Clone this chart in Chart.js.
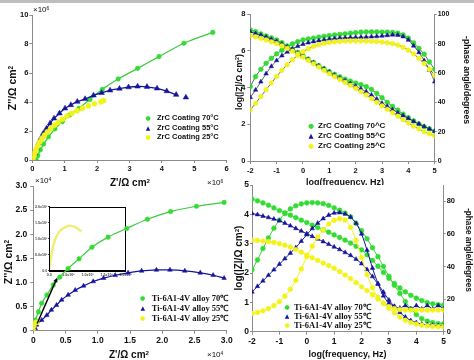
<!DOCTYPE html>
<html><head><meta charset="utf-8">
<script src="https://cdn.jsdelivr.net/npm/chart.js@4.4.1/dist/chart.umd.min.js"></script>
<style>
html,body{margin:0;padding:0;background:#fff;}
body{width:474px;height:360px;position:relative;overflow:hidden;font-family:"Liberation Sans",Arial,sans-serif;color:#111;}
canvas{position:absolute;left:0;top:0;}
.t{position:absolute;white-space:nowrap;font-weight:bold;line-height:1;}
.c{transform:translate(-50%,-50%);}
.rl{transform:translate(-50%,-50%) rotate(-90deg);}
.rr{transform:translate(-50%,-50%) rotate(90deg);}
.m{position:absolute;white-space:nowrap;font-size:8px;line-height:1;transform:translateY(-50%);}
sup{font-size:0.62em;vertical-align:0.5em;line-height:0;}
.lg{position:absolute;white-space:nowrap;font-weight:bold;line-height:1;transform:translateY(-50%);}
.mk{position:absolute;transform:translate(-50%,-50%);line-height:1;font-family:"DejaVu Sans",sans-serif;}
.serif{font-family:"Liberation Serif","Times New Roman",serif;}
</style></head><body>
<div style="position:absolute;left:0;top:0;width:474px;height:3px;background:#bdbdbd"></div>
<canvas id="inset" width="474" height="360"></canvas>
<canvas id="tl" width="474" height="360"></canvas>
<canvas id="tr" width="474" height="360"></canvas>
<canvas id="bl" width="474" height="360"></canvas>
<canvas id="br" width="474" height="360"></canvas>

<!-- top-left texts -->
<div class="m" style="left:33px;top:10px;">×10<sup>6</sup></div>
<div class="t c" style="left:130px;top:183px;font-size:10px;">Z'/Ω cm<sup>2</sup></div>
<div class="m" style="left:207px;top:183px;">×10<sup>6</sup></div>
<div class="t rl" style="left:12px;top:88px;font-size:10.5px;">Z''/Ω cm<sup>2</sup></div>
<div class="mk" style="left:148px;top:118px;font-size:6px;color:#32dc32">●</div>
<div class="mk" style="left:148px;top:127.5px;font-size:6px;color:#14149c">▲</div>
<div class="mk" style="left:148px;top:137px;font-size:6px;color:#f3f31c">●</div>
<div class="lg" style="left:157px;top:118px;font-size:7.5px;">ZrC Coating 70°C</div>
<div class="lg" style="left:157px;top:127.5px;font-size:7.5px;">ZrC Coating 55°C</div>
<div class="lg" style="left:157px;top:137px;font-size:7.5px;">ZrC Coating 25°C</div>

<!-- top-right texts -->
<div class="t rl" style="left:238.5px;top:82px;font-size:8.6px;">log(|Z|/Ω cm<sup>2</sup>)</div>
<div class="t rr" style="left:467px;top:80px;font-size:8.6px;">-phase angle/degrees</div>
<div style="position:absolute;left:290px;top:170px;width:110px;height:14.5px;overflow:hidden;">
  <div class="t c" style="left:55px;top:11.5px;font-size:9px;">log(frequency, Hz)</div>
</div>
<div class="mk" style="left:311px;top:126px;font-size:6.5px;color:#32dc32">●</div>
<div class="mk" style="left:311px;top:136px;font-size:6.5px;color:#14149c">▲</div>
<div class="mk" style="left:311px;top:146px;font-size:6.5px;color:#f3f31c">●</div>
<div class="lg" style="left:318px;top:126px;font-size:8px;">ZrC Coating 70^C</div>
<div class="lg" style="left:318px;top:136px;font-size:8px;">ZrC Coating 55^C</div>
<div class="lg" style="left:318px;top:146px;font-size:8px;">ZrC Coating 25^C</div>

<!-- bottom-left texts -->
<div class="m" style="left:35px;top:181px;">×10<sup>4</sup></div>
<div class="t rl" style="left:8px;top:262px;font-size:10.5px;">Z''/Ω cm<sup>2</sup></div>
<div class="t c" style="left:129px;top:355px;font-size:10px;">Z'/Ω cm<sup>2</sup></div>
<div class="m" style="left:207px;top:355px;">×10<sup>4</sup></div>
<div class="mk" style="left:142.7px;top:298.3px;font-size:6px;color:#32dc32">●</div>
<div class="mk" style="left:142.7px;top:308px;font-size:6px;color:#14149c">▲</div>
<div class="mk" style="left:142.7px;top:317.5px;font-size:6px;color:#f3f31c">●</div>
<div class="lg serif" style="left:151.7px;top:298.3px;font-size:8.5px;">Ti-6A1-4V alloy 70℃</div>
<div class="lg serif" style="left:151.7px;top:308px;font-size:8.5px;">Ti-6A1-4V alloy 55℃</div>
<div class="lg serif" style="left:151.7px;top:317.5px;font-size:8.5px;">Ti-6A1-4V alloy 25℃</div>

<!-- bottom-right texts -->
<div class="t rl" style="left:239px;top:258px;font-size:10px;">log(|Z|/Ω cm<sup>2</sup>)</div>
<div class="t rr" style="left:468px;top:250px;font-size:8.2px;">-phase angle/degrees</div>
<div class="t c" style="left:347.5px;top:354px;font-size:9px;">log(frequency, Hz)</div>
<div class="mk" style="left:287px;top:306.7px;font-size:6px;color:#32dc32">●</div>
<div class="mk" style="left:287px;top:316px;font-size:6px;color:#14149c">▲</div>
<div class="mk" style="left:287px;top:325px;font-size:6px;color:#f3f31c">●</div>
<div class="lg serif" style="left:294px;top:306.7px;font-size:8.5px;">Ti-6A1-4V alloy 70℃</div>
<div class="lg serif" style="left:294px;top:316px;font-size:8.5px;">Ti-6A1-4V alloy 55℃</div>
<div class="lg serif" style="left:294px;top:325px;font-size:8.5px;">Ti-6A1-4V alloy 25℃</div>

<script>
// ---------------- DATA ----------------
// Top-left: Nyquist, ZrC coating (units x10^6 ohm cm2)
const tlGreenZre = [0.12,0.17,0.25,0.35,0.5,0.7,0.93,1.15,1.44,1.78,2.16,2.65,3.25,3.91,4.68,5.57];
const tlGreenZim = [0.0,0.3,0.7,1.1,1.6,2.15,2.65,3.1,3.56,4.18,4.87,5.59,6.32,7.13,8.05,8.8];
const tlBlueZre = [0.08,0.13,0.19,0.26,0.34,0.44,0.55,0.67,0.84,1.01,1.19,1.39,1.63,1.89,2.14,2.4,2.69,2.97,3.25,3.54,3.85,4.15,4.44,4.74];
const tlBlueZim = [0.46,0.8,1.15,1.49,1.84,2.18,2.53,2.87,3.22,3.56,3.79,4.02,4.21,4.45,4.63,4.8,4.92,5.02,5.07,5.05,4.94,4.75,4.5,4.32];
const tlYellowZre = [0.02,0.05,0.08,0.12,0.17,0.23,0.3,0.38,0.47,0.57,0.68,0.8,0.93,1.07,1.22,1.38,1.55,1.73,1.92,2.12,2.2];
const tlYellowZim = [0.1,0.3,0.5,0.75,1.0,1.25,1.5,1.72,1.95,2.17,2.4,2.61,2.82,3.02,3.22,3.4,3.57,3.73,3.88,4.01,4.1];

// Bode plots share the frequency points (log Hz)
const logFreq = [-2,-1.8,-1.6,-1.4,-1.2,-1,-0.8,-0.6,-0.4,-0.2,0,0.2,0.4,0.6,0.8,1,1.2,1.4,1.6,1.8,2,2.2,2.4,2.6,2.8,3,3.2,3.4,3.6,3.8,4,4.2,4.4,4.6,4.8,5];

// Top-right: ZrC coating Bode
const trGreenLogZ = [7.15,7.05,6.93,6.82,6.71,6.6,6.45,6.28,6.1,5.92,5.74,5.56,5.38,5.2,5.03,4.87,4.72,4.59,4.46,4.35,4.25,4.16,4.05,3.9,3.68,3.45,3.2,2.98,2.77,2.56,2.36,2.18,2.02,1.88,1.75,1.62];
const trBlueLogZ = [7.05,6.95,6.86,6.76,6.64,6.52,6.38,6.22,6.05,5.88,5.72,5.54,5.36,5.19,5.02,4.85,4.68,4.52,4.37,4.22,4.08,3.93,3.78,3.6,3.38,3.15,2.98,2.8,2.63,2.47,2.32,2.16,2.02,1.88,1.75,1.63];
const trYellowLogZ = [6.85,6.77,6.69,6.6,6.5,6.4,6.28,6.14,5.99,5.83,5.66,5.48,5.3,5.12,4.94,4.76,4.6,4.44,4.28,4.12,3.96,3.78,3.6,3.4,3.2,3.0,2.82,2.63,2.44,2.25,2.07,1.9,1.75,1.6,1.48,1.37];
const trGreenPhase = [50.7,57.5,62.5,66.6,70,73,75.5,77.8,79.8,81.3,82.5,83.2,83.8,84.4,85,85.5,85.9,86.3,86.7,87.1,87.5,87.8,88,88,88,87.9,87.8,87.6,87.2,86,83.8,80.5,76.8,72.8,67.5,62.5];
const trBluePhase = [43.4,48.4,54,59.5,64.5,68.5,71.8,74.3,76.4,78.2,79.6,80.6,81.4,82,82.6,83.1,83.5,83.8,84,84.2,84.3,84.4,84.5,84.7,84.9,85.2,85.6,86,85.8,84.8,82.5,78.5,74,68.5,62,54];
const trYellowPhase = [34.8,39.3,43.9,48.6,53.2,57.6,61.8,65.6,69,72,74.5,76.5,78.1,79.3,80.2,80.8,81.2,81.5,81.7,81.8,81.8,81.8,81.7,81.6,81.4,81.1,80.6,80,79,77.5,75.5,73,70,66.5,62.5,58.5];

// Bottom-left: Nyquist, Ti-6Al-4V (units x10^4 ohm cm2)
const blGreenZre = [0.0,0.03,0.08,0.13,0.21,0.31,0.41,0.54,0.71,0.91,1.16,1.45,1.77,2.13,2.53,2.96];
const blGreenZim = [0.12,0.22,0.39,0.57,0.74,0.95,1.11,1.29,1.49,1.73,1.94,2.12,2.31,2.47,2.58,2.66];
const blBlueZre = [0.03,0.05,0.13,0.21,0.28,0.36,0.44,0.54,0.65,0.78,0.93,1.09,1.27,1.47,1.68,1.91,2.12,2.35,2.59,2.79,2.96];
const blBlueZim = [0.05,0.12,0.22,0.32,0.43,0.53,0.64,0.74,0.84,0.93,1.02,1.09,1.15,1.2,1.24,1.26,1.26,1.24,1.2,1.15,1.09];
const blYellowZre = [0.0,0.01,0.02,0.03,0.045,0.06];
const blYellowZim = [0.03,0.09,0.14,0.17,0.18,0.17];
// Inset (ohm cm2)
const insetZre = [0,45,91,155,227,318,409,500,591,682,773,864];
const insetZim = [54,435,760,1030,1217,1360,1435,1490,1490,1457,1390,1304];
const insetTickLabels = ['0.0','5.0x10²','1.0x10³','1.5x10³','2.0x10³'];
const arrowFrom = [0.06,0.15], arrowTo = [0.37,1.1];

// Bottom-right: Ti-6Al-4V Bode
const brGreenLogZ = [4.52,4.46,4.39,4.31,4.22,4.13,4.05,3.97,3.89,3.8,3.72,3.63,3.55,3.47,3.39,3.3,3.21,3.12,3.02,2.91,2.79,2.62,2.43,2.23,2.02,1.82,1.64,1.49,1.36,1.24,1.14,1.06,0.99,0.95,0.92,0.91];
const brBlueLogZ = [4.03,3.99,3.94,3.89,3.84,3.78,3.7,3.61,3.52,3.43,3.34,3.25,3.16,3.07,2.98,2.89,2.8,2.7,2.6,2.47,2.32,2.12,1.88,1.62,1.35,1.08,0.86,0.66,0.5,0.38,0.31,0.26,0.24,0.22,0.21,0.2];
const brYellowLogZ = [3.12,3.11,3.09,3.07,3.04,3.0,2.95,2.88,2.8,2.71,2.61,2.52,2.43,2.34,2.25,2.16,2.05,1.93,1.81,1.67,1.53,1.4,1.26,1.11,0.96,0.8,0.64,0.5,0.39,0.31,0.26,0.22,0.2,0.18,0.17,0.17];
const brGreenPhase = [38,44,51,57.5,63.5,68.5,72.5,75.3,77.2,78.4,79,79.2,79,78.5,77.5,76,74.5,72.8,70.5,66.5,62,57,51.5,46,40,34,28.5,23.5,18.5,14,10.5,8,6.5,5.5,5,5];
const brBluePhase = [24.4,27.8,31.2,34.6,38,41.4,44.8,48.2,51.6,55.5,59.5,63.3,66.6,69.4,71.5,72.8,73,72.2,70.3,66.5,60,50,39,29.5,22,17.5,15.5,14.5,16,14,16,14,16,14,16,14];
const brYellowPhase = [11.2,11.8,12.8,14.2,16,18.5,21.8,26,31.5,38.5,46,52.5,58,62.5,66,68.3,69.3,68.5,64,56,45.5,35,27,21,17.5,15.3,14.2,13.6,13.3,13.2,13.2,13.2,13.2,13.2,13.2,13.2];

// ---------------- STYLE / HELPERS ----------------
const FONT = '"Liberation Sans", Arial, sans-serif';
const AX = '#8c8c8c';
const GREEN = '#32dc32', GREEN_LINE = '#3fcb3f', BLUE = '#14149c', YELLOW = '#f3f31c', FIT = '#1e1e1e';

function pts(xs, ys){ return xs.map((x,i)=>({x:x, y:ys[i]})); }

function axis(pos, min, max, step, size, fit, o){
  o = o || {};
  const ticks = {stepSize:step, font:{family:FONT,size:size,weight:'bold'}, color:o.tc||'#111',
    padding:(o.pad!==undefined?o.pad:1), autoSkip:false, maxRotation:0, includeBounds:false};
  if (o.cb) ticks.callback = o.cb;
  return {
    type:'linear', position:pos, min:min, max:max, ticks:ticks,
    grid:{drawOnChartArea:false, drawTicks:(o.tl!==0), tickLength:(o.tl!==undefined?o.tl:3), color:o.bc||AX, tickColor:o.bc||AX},
    border:{display:true, color:o.bc||AX, width:1},
    afterFit: fit
  };
}
function baseOpts(padding, scales){
  return {responsive:false, maintainAspectRatio:false, animation:false, devicePixelRatio:1,
    layout:{padding:padding},
    plugins:{legend:{display:false}, tooltip:{enabled:false}, title:{display:false}},
    elements:{line:{tension:0.3}},
    scales:scales};
}
function mk(data, color, style, r, extra){
  return Object.assign({data:data, showLine:false, pointRadius:r, pointStyle:style,
    pointBackgroundColor:color, pointBorderColor:color, pointBorderWidth:0.5}, extra||{});
}

// ---------------- TOP LEFT ----------------
new Chart(document.getElementById('tl'), {
  type:'scatter',
  data:{datasets:[
    mk(pts(tlYellowZre,tlYellowZim), YELLOW, 'circle', 2.6),
    mk(pts(tlBlueZre,tlBlueZim), BLUE, 'triangle', 3.2),
    {data:pts(tlBlueZre.slice(0,23), tlBlueZim.slice(0,23)), showLine:true, borderColor:BLUE, borderWidth:1.3, pointRadius:0},
    mk(pts(tlGreenZre,tlGreenZim), GREEN, 'circle', 2.3, {showLine:true, borderColor:GREEN_LINE, borderWidth:1.3})
  ]},
  options: baseOpts({left:2.3, top:15, right:247.3, bottom:180}, {
    x: axis('bottom',0,6,1,7.5, s=>{s.height=20;}, {pad:1}),
    y: axis('left',0,10,2,7.5, s=>{s.width=30;}, {pad:1})
  })
});

// ---------------- TOP RIGHT ----------------
function bodeSet(ys, color, style, yAxisID, lineColor, lw, r){
  return mk(pts(logFreq, ys), color, style, r, {showLine:true, borderColor:lineColor, borderWidth:lw, yAxisID:yAxisID});
}
new Chart(document.getElementById('tr'), {
  type:'scatter',
  data:{datasets:[
    bodeSet(trYellowLogZ, YELLOW, 'circle', 'y', FIT, 0.7, 2.4),
    bodeSet(trYellowPhase, YELLOW, 'circle', 'y2', FIT, 0.7, 2.4),
    bodeSet(trBlueLogZ, BLUE, 'triangle', 'y', FIT, 0.7, 2.6),
    bodeSet(trBluePhase, BLUE, 'triangle', 'y2', FIT, 0.7, 2.6),
    bodeSet(trGreenLogZ, GREEN, 'circle', 'y', FIT, 0.7, 2.4),
    bodeSet(trGreenPhase, GREEN, 'circle', 'y2', FIT, 0.7, 2.4)
  ]},
  options: baseOpts({left:237.3, top:14.3, right:9.3, bottom:180}, {
    x: axis('bottom',-2,5,1,7.5, s=>{s.height=19;}, {pad:2}),
    y: axis('left',0,8,2,7.5, s=>{s.width=13;}, {pad:2}),
    y2: axis('right',0,100,20,7, s=>{s.width=30;}, {pad:1, tl:2})
  })
});

// ---------------- INSET ----------------
const framePlugin = {id:'frame', afterDraw(chart){
  const a = chart.chartArea, c = chart.ctx;
  c.save(); c.strokeStyle = '#000'; c.lineWidth = 1;
  c.strokeRect(Math.round(a.left)+0.5, Math.round(a.top)+0.5, Math.round(a.right-a.left), Math.round(a.bottom-a.top));
  c.restore();
}};
new Chart(document.getElementById('inset'), {
  type:'scatter',
  data:{datasets:[
    {data:pts(insetZre, insetZim), showLine:true, borderColor:'#efef72', borderWidth:2.4, pointRadius:0}
  ]},
  options: baseOpts({left:29.3, top:206.7, right:348.3, bottom:81.3}, {
    x: axis('bottom',0,2050,500,3.6, s=>{s.height=8;}, {pad:1, tl:1, bc:'#000', tc:'#444', cb:(v)=>insetTickLabels[Math.round(v/500)]}),
    y: axis('left',0,2130,500,3.6, s=>{s.width=20;}, {pad:1, tl:1, bc:'#000', tc:'#444', cb:(v)=>insetTickLabels[Math.round(v/500)]})
  }),
  plugins:[framePlugin]
});

// ---------------- BOTTOM LEFT ----------------
const arrowPlugin = {id:'arrow', afterDatasetsDraw(chart){
  const c = chart.ctx, xs = chart.scales.x, ys = chart.scales.y;
  const x0 = xs.getPixelForValue(arrowFrom[0]), y0 = ys.getPixelForValue(arrowFrom[1]);
  const x1 = xs.getPixelForValue(arrowTo[0]), y1 = ys.getPixelForValue(arrowTo[1]);
  const ang = Math.atan2(y1-y0, x1-x0), h = 5;
  c.save(); c.strokeStyle = '#000'; c.fillStyle = '#000'; c.lineWidth = 1.4;
  c.beginPath(); c.moveTo(x0,y0); c.lineTo(x1 - Math.cos(ang)*3, y1 - Math.sin(ang)*3); c.stroke();
  c.beginPath(); c.moveTo(x1,y1);
  c.lineTo(x1 - h*Math.cos(ang-0.45), y1 - h*Math.sin(ang-0.45));
  c.lineTo(x1 - h*Math.cos(ang+0.45), y1 - h*Math.sin(ang+0.45));
  c.closePath(); c.fill(); c.restore();
}};
new Chart(document.getElementById('bl'), {
  type:'scatter',
  data:{datasets:[
    mk(pts(blYellowZre,blYellowZim), YELLOW, 'circle', 2.2, {showLine:true, borderColor:YELLOW, borderWidth:1.5}),
    mk(pts(blGreenZre,blGreenZim), GREEN, 'circle', 2.3, {showLine:true, borderColor:GREEN_LINE, borderWidth:1.2}),
    mk(pts(blBlueZre,blBlueZim), BLUE, 'triangle', 2.7, {showLine:true, borderColor:BLUE, borderWidth:1.2})
  ]},
  options: baseOpts({left:3.3, top:186, right:247.3, bottom:9.3}, {
    x: axis('bottom',0,3,0.5,8.5, s=>{s.height=20;}, {pad:2}),
    y: axis('left',0,3,0.5,8.5, s=>{s.width=30;}, {pad:3})
  }),
  plugins:[arrowPlugin]
});

// ---------------- BOTTOM RIGHT ----------------
new Chart(document.getElementById('br'), {
  type:'scatter',
  data:{datasets:[
    bodeSet(brYellowPhase, YELLOW, 'circle', 'y2', YELLOW, 1, 2.4),
    bodeSet(brYellowLogZ, YELLOW, 'circle', 'y', YELLOW, 1, 2.4),
    bodeSet(brBluePhase, BLUE, 'triangle', 'y2', BLUE, 1, 2.6),
    bodeSet(brBlueLogZ, BLUE, 'triangle', 'y', BLUE, 1, 2.6),
    bodeSet(brGreenPhase, GREEN, 'circle', 'y2', GREEN_LINE, 1, 2.4),
    bodeSet(brGreenLogZ, GREEN, 'circle', 'y', GREEN_LINE, 1, 2.4)
  ]},
  options: baseOpts({left:240, top:185, right:8.3, bottom:8.3}, {
    x: axis('bottom',-2,5,1,8.5, s=>{s.height=20;}, {pad:2}),
    y: axis('left',0,5,1,8.5, s=>{s.width=12;}, {pad:1, tl:2}),
    y2: axis('right',0,90,20,7.5, s=>{s.width=22;}, {pad:1, tl:2})
  })
});
</script>
</body></html>
